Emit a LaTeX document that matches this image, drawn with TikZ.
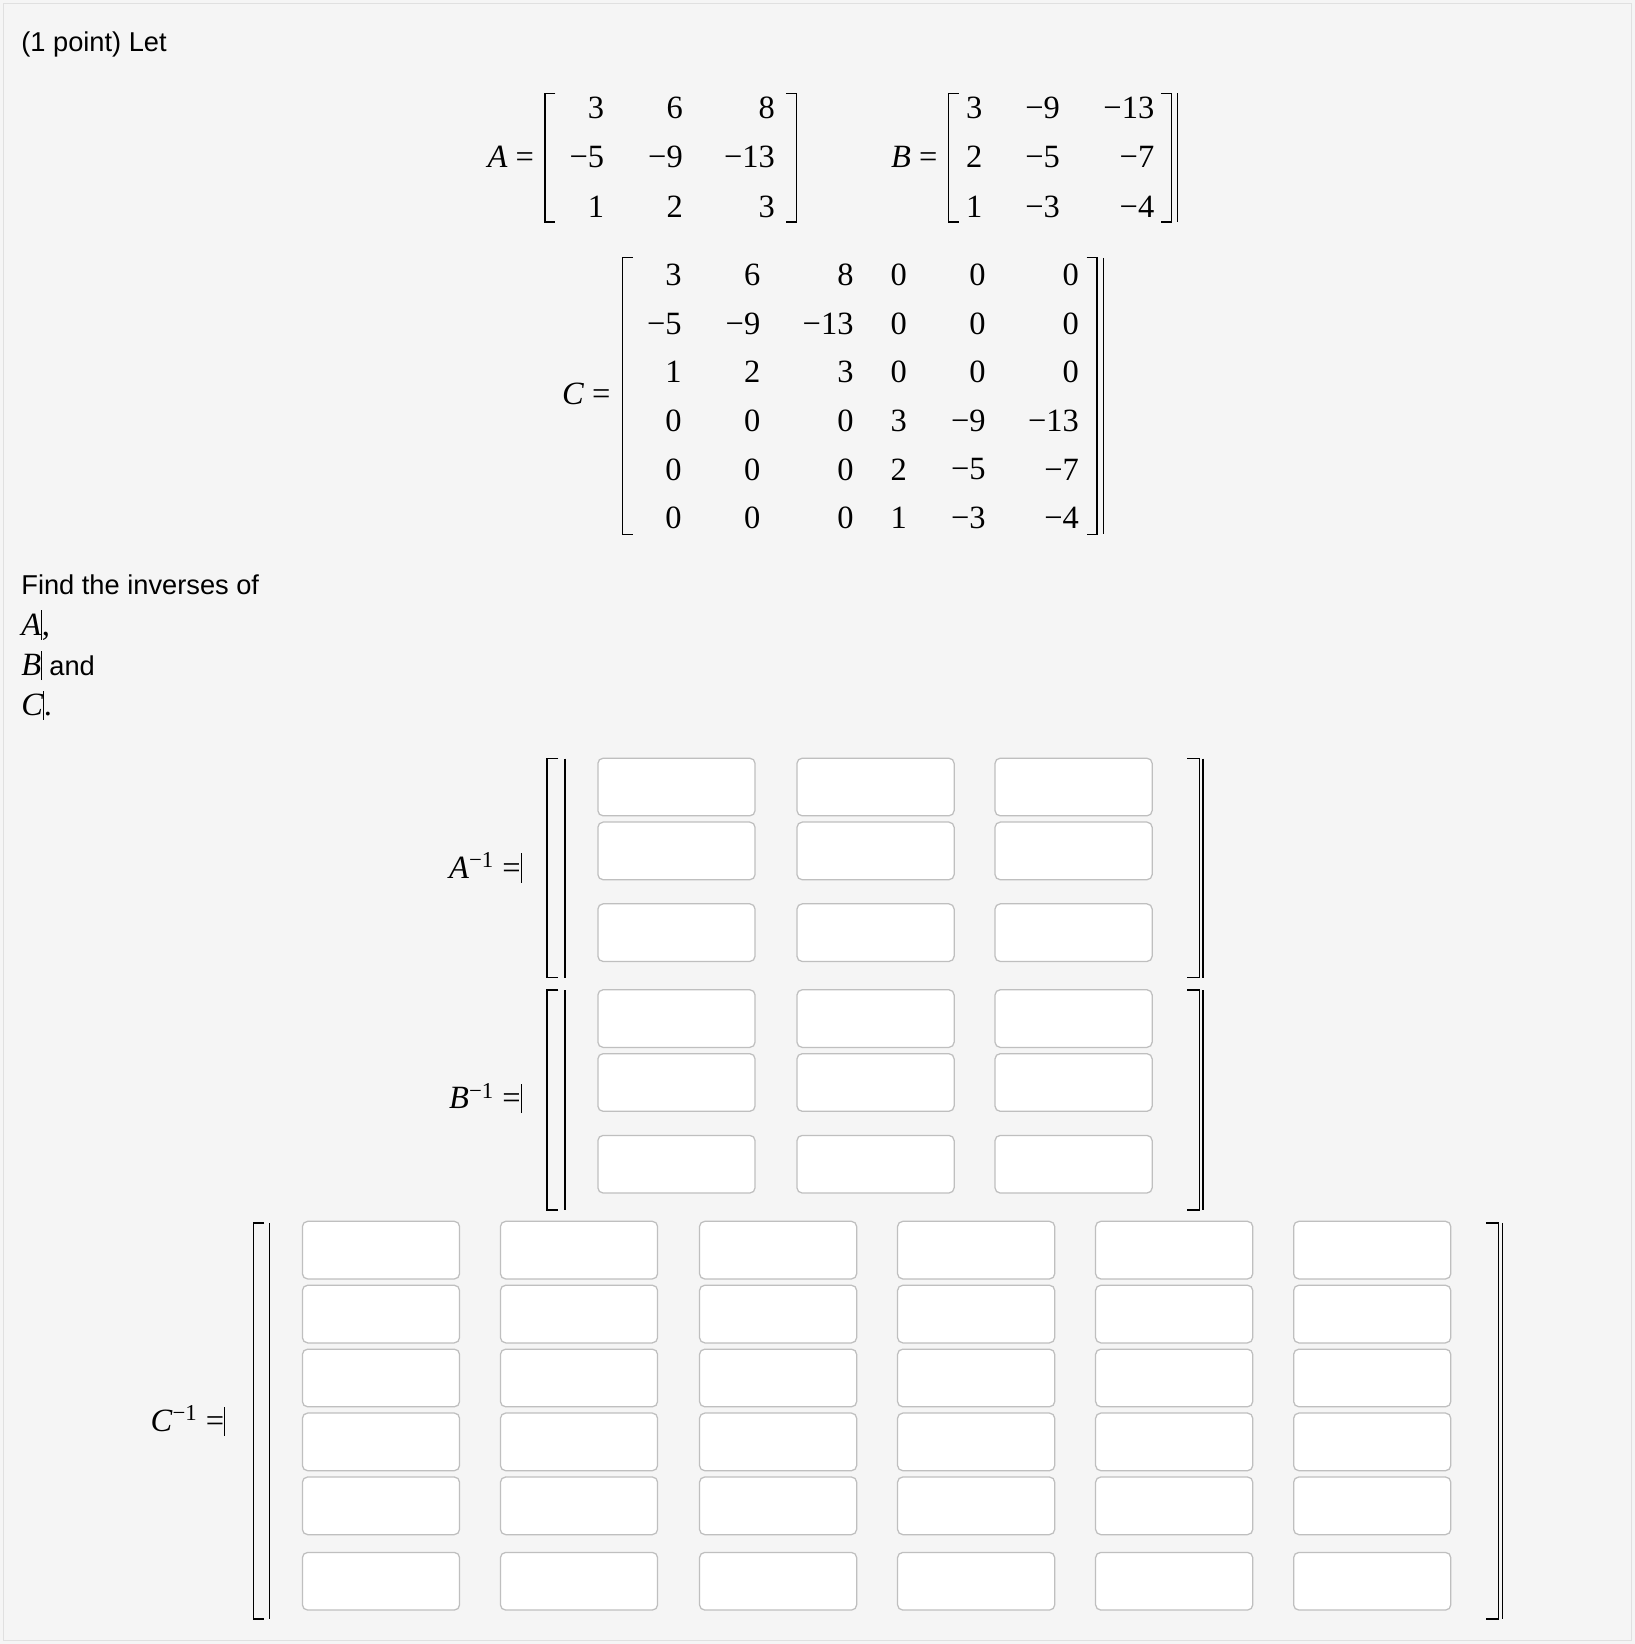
\documentclass[tikz,border=0pt]{standalone}
\usepackage{fontspec}
\setmainfont{Liberation Serif}
\newfontfamily\uisans{Liberation Sans}
\newcommand{\mn}{−}
\begin{document}
\begin{tikzpicture}[x=0.5pt,y=-0.5pt,
  txt/.style={font=\uisans\fontsize{13}{15}\selectfont,anchor=west,inner sep=0},
  ent/.style={font=\fontsize{15.5}{17}\selectfont,anchor=east,inner sep=0},
  lab/.style={font=\fontsize{15.5}{17}\selectfont,anchor=east,inner sep=0},
  inbox/.style={draw=black!25,fill=white,rounded corners=2.5pt,line width=0.6pt,minimum width=75pt,minimum height=27.5pt,anchor=north west,inner sep=0},
  brk/.style={line width=0.7pt}]
\useasboundingbox (0,0) rectangle (1560,1569);
\fill[black!4] (0,0) rectangle (1560,1569);
\draw[black!12] (3,3) rectangle (1557,1566);
\node[txt] (t1) at (20,42) {(1 point) Let};
% A
\node[lab] (la) at (510,150) {\textit{A} =};
\foreach \x/\col in {577/{3,\mn5,1},652/{6,\mn9,2},740/{8,\mn13,3}}{
  \foreach \v [count=\i] in \col {\node[ent] (a\x\i) at (\x,{56+47*\i}) {\v};}}
\draw[brk] (530,89)--(520,89)--(520,212)--(530,212);
\draw[brk] (750,89)--(760,89)--(760,212)--(750,212);
% B
\node[lab] (lb) at (895,150) {\textit{B} =};
\foreach \x/\col in {938/{3,2,1},1012/{\mn9,\mn5,\mn3},1102/{\mn13,\mn7,\mn4}}{
  \foreach \v [count=\i] in \col {\node[ent] (b\x\i) at (\x,{56+47*\i}) {\v};}}
\draw[brk] (915,89)--(905,89)--(905,212)--(915,212);
\draw[brk] (1108,89)--(1118,89)--(1118,212)--(1108,212);
\draw[brk] (1124,89)--(1124,212);
% C
\node[lab] (lc) at (583,376) {\textit{C} =};
\foreach \x/\col in {651/{3,\mn5,1,0,0,0},726/{6,\mn9,2,0,0,0},815/{8,\mn13,3,0,0,0},866/{0,0,0,3,2,1},941/{0,0,0,\mn9,\mn5,\mn3},1030/{0,0,0,\mn13,\mn7,\mn4}}{
  \foreach \v [count=\i] in \col {\node[ent] (c\x\i) at (\x,{216+46.4*\i}) {\v};}}
\draw[brk] (604,246)--(594,246)--(594,510)--(604,510);
\draw[brk] (1037,246)--(1047,246)--(1047,510)--(1037,510);
\draw[brk] (1053,246)--(1053,510);
% text
\node[txt] (t2) at (20,558) {Find the inverses of};
\node[txt] (t3) at (20,597) {\rmfamily\fontsize{15.5}{17}\selectfont\textit{A}\rule[-2pt]{0.3pt}{14pt},};
\node[txt] (t4) at (20,635) {\rmfamily\fontsize{15.5}{17}\selectfont\textit{B}\rule[-2pt]{0.3pt}{14pt}\uisans\fontsize{13}{15}\selectfont\ and};
\node[txt] (t5) at (20,673) {\rmfamily\fontsize{15.5}{17}\selectfont\textit{C}\rule[-2pt]{0.3pt}{14pt}.};
% A^-1
\node[lab] (lai) at (498,828) {\textit{A}\textsuperscript{\mn1} =\rule[-2pt]{0.3pt}{14pt}};
\foreach \x in {570,760,949}{\foreach \y in {723,784,862}{\node[inbox] (ai\x\y) at (\x,\y) {};}}
\draw[brk] (533,724)--(522,724)--(522,933)--(533,933);
\draw[brk] (539,724)--(539,933);
\draw[brk] (1133,724)--(1145,724)--(1145,933)--(1133,933);
\draw[brk] (1148,724)--(1148,933);
% B^-1
\node[lab] (lbi) at (498,1048) {\textit{B}\textsuperscript{\mn1} =\rule[-2pt]{0.3pt}{14pt}};
\foreach \x in {570,760,949}{\foreach \y in {944,1005,1083}{\node[inbox] (bi\x\y) at (\x,\y) {};}}
\draw[brk] (533,945)--(522,945)--(522,1155)--(533,1155);
\draw[brk] (539,945)--(539,1155);
\draw[brk] (1133,945)--(1145,945)--(1145,1155)--(1133,1155);
\draw[brk] (1148,945)--(1148,1155);
% C^-1
\node[lab] (lci) at (215,1356) {\textit{C}\textsuperscript{\mn1} =\rule[-2pt]{0.3pt}{14pt}};
\foreach \x in {288,477,667,856,1045,1234}{\foreach \y in {1165,1226,1287,1348,1409,1481}{\node[inbox] (ci\x\y) at (\x,\y) {};}}
\draw[brk] (252,1167)--(242,1167)--(242,1545)--(252,1545);
\draw[brk] (257,1167)--(257,1545);
\draw[brk] (1418,1167)--(1430,1167)--(1430,1545)--(1418,1545);
\draw[brk] (1434,1167)--(1434,1545);
\end{tikzpicture}
\end{document}
